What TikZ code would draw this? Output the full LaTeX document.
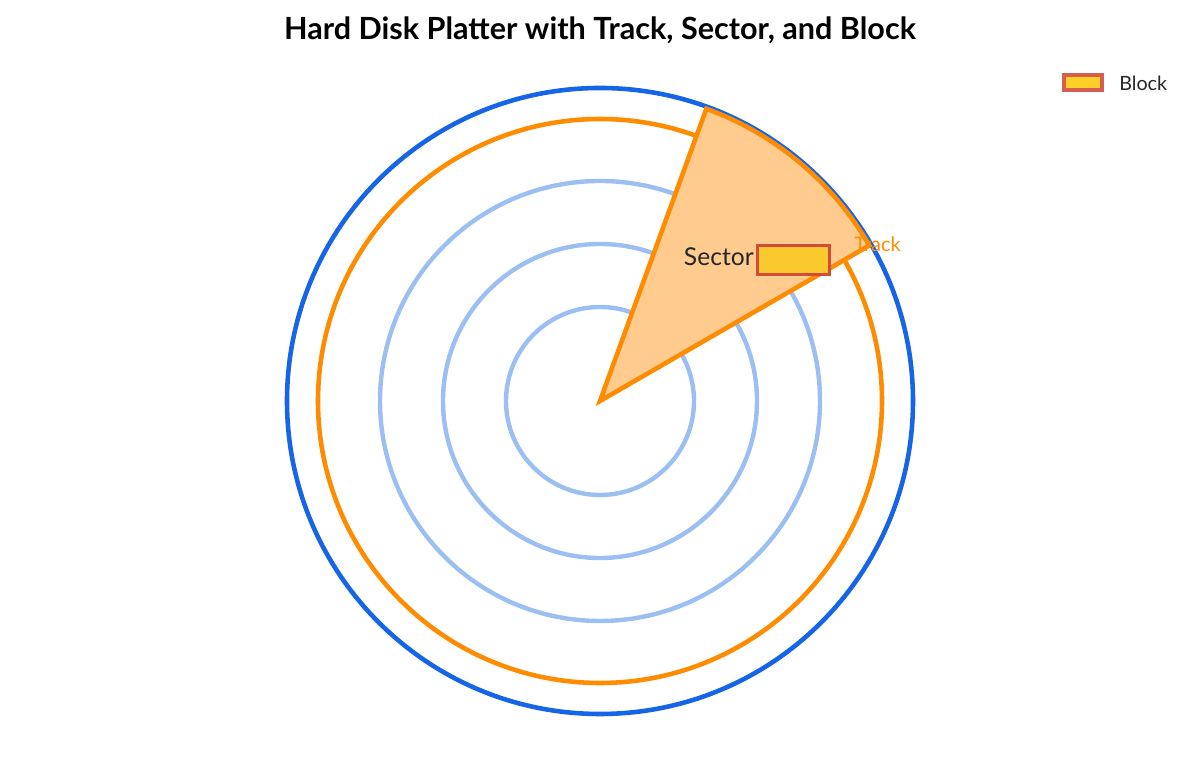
\documentclass[tikz,border=0pt]{standalone}
\usepackage{fontspec}
\setmainfont{Lato}
\usetikzlibrary{calc}
\definecolor{platterblue}{HTML}{1565E6}
\definecolor{ringblue}{HTML}{9BBFF3}
\definecolor{trackorange}{HTML}{FF8C00}
\definecolor{sectorfill}{HTML}{FFCB8F}
\definecolor{blockfill}{HTML}{FAC92E}
\definecolor{blockedge}{HTML}{D24C3A}
\tikzset{
    ring/.style={line width=2.5pt,ringblue},
    blockbox/.style={draw=blockedge,fill=blockfill,line width=1.8pt,inner sep=0pt},
}
\begin{document}
\begin{tikzpicture}[x=0.02cm,y=0.02cm]
                \useasboundingbox (0,0) rectangle (1200,763);
                \coordinate (c) at (600,362);
                \node (title) at (600,733) {\fontsize{17.4}{20}\selectfont\bfseries Hard Disk Platter with Track, Sector, and Block};
                \draw[line width=2.6pt,platterblue] (c) circle[radius=313];
                \draw[line width=2.6pt,trackorange] (c) circle[radius=282];
                \draw[ring] (c) circle[radius=220];
                \draw[ring] (c) circle[radius=157];
                \draw[ring] (c) circle[radius=94];
                \draw[line width=2.6pt,trackorange,fill=sectorfill,miter limit=20] (c)--($(c)+(30:311)$) arc[start angle=30,end angle=70,radius=311]--cycle;
                \node[blockbox,minimum width=1.44cm,minimum height=0.58cm] (block) at (793.5,503) {};
                \node[anchor=east,inner sep=0pt,text=black!85] (sector) at (754,506) {\fontsize{14}{16}\selectfont Sector};
                \node[anchor=west,inner sep=0pt,text=trackorange] (track) at (854,519) {\fontsize{11.4}{13}\selectfont Track};
                \node[blockbox,draw=blockedge!90,fill=blockfill!85!yellow,minimum width=0.76cm,minimum height=0.3cm] (key) at (1083,680.5) {};
                \node[anchor=west,inner sep=0pt,text=black!85] (keytext) at (1119,680) {\fontsize{11.2}{13}\selectfont Block};
            \end{tikzpicture}
\end{document}
